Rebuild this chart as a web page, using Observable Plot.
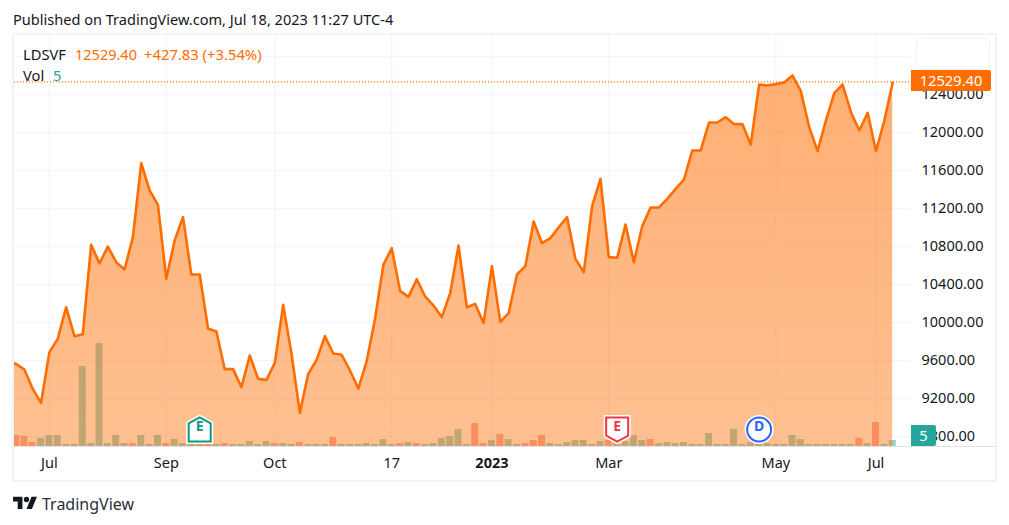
<!DOCTYPE html>
<html><head><meta charset="utf-8">
<script src="https://cdn.jsdelivr.net/npm/d3@7"></script>
<script src="https://cdn.jsdelivr.net/npm/@observablehq/plot@0.6"></script>
<style>
html,body{margin:0;padding:0;background:#fff;width:1009px;height:525px;overflow:hidden}
body{font-family:"Noto Sans",sans-serif;color:#131722;position:relative}
.abs{position:absolute;white-space:nowrap;line-height:1}
svg{display:block}
</style></head><body>
<div id="chart" class="abs" style="left:0;top:33px"></div>
<div class="abs" style="left:12px;top:33px;width:981px;height:445px;border:2px solid #f0f3fa"></div>
<div class="abs" style="left:14px;top:446px;width:981px;height:1px;background:#e0e3eb"></div>
<div class="abs" style="left:13px;top:12px;font-size:14.55px">Published on TradingView.com, Jul 18, 2023 11:27 UTC-4</div>
<div class="abs" style="left:23px;top:47px;font-size:14.7px">LDSVF</div>
<div class="abs" style="left:75px;top:47px;font-size:14.5px;color:#ff6d00">12529.40</div>
<div class="abs" style="left:144px;top:47px;font-size:14.8px;color:#ff6d00">+427.83 (+3.54%)</div>
<div class="abs" style="left:23px;top:68px;font-size:14.7px">Vol</div>
<div class="abs" style="left:53px;top:68px;font-size:14.7px;color:#26a69a">5</div>
<div class="abs" style="left:916px;top:38px;width:72px;height:30px;background:#fff;border:1.5px solid #f0f3fa;border-radius:5px"></div>
<svg class="abs" style="left:13px;top:494.3px" width="24.3" height="19" viewBox="0 0 36 28"><path fill="#131722" d="M14 22H7V11H0V4h14v18zM28 22h-8l7.5-18h8L28 22z"/><circle fill="#131722" cx="20" cy="8" r="4"/></svg>
<div class="abs" style="left:42px;top:496px;font-size:16px;color:#2a2e39">TradingView</div>
<script>
// Weekly closes, first entry sits just left of the visible window
const closes = [9590,9568,9508,9305,9157,9691,9831,10164,9859,9880,10821,10624,10803,10638,10561,10901,11681,11393,11242,10463,10866,11112,10508,10508,9940,9908,9512,9512,9322,9656,9410,9399,9578,10189,9673,9052,9463,9610,9859,9677,9663,9498,9308,9596,10041,10610,10785,10336,10273,10459,10277,10182,10059,10312,10813,10164,10199,9996,10596,10010,10101,10508,10596,11066,10838,10891,11006,11112,10673,10533,11228,11515,10691,10684,11035,10638,11017,11214,11214,11305,11410,11508,11814,11814,12108,12108,12164,12091,12091,11877,12508,12498,12512,12529,12603,12438,12059,11807,12129,12417,12508,12217,12024,12210,11807,12129,12529.4];
const volumes = [9.2,8.3,3.3,6.7,9.2,9.2,1.7,1.7,66.7,2.5,85.8,2.5,9.2,2.5,2.5,9.2,1.7,9.2,2.5,5.8,2.5,2.5,1.7,2.5,1.7,2.5,1.7,1.7,4.2,1.7,4.2,2.5,2.5,1.7,3.3,1.7,1.7,1.7,7.5,1.7,1.7,1.7,2.5,1.7,5.8,1.7,2.5,3.3,2.5,1.7,2.5,6.7,8.3,14.2,1.7,19.2,2.5,5,10,5.8,1.7,2.5,5,9.2,2.5,1.7,3.3,5,5,1.7,4.2,5,2.5,4.2,9.2,5,5.8,2.5,3.3,2.5,3.3,1.7,1.7,10.8,1.7,1.7,14.2,1.7,3.3,2.5,2.5,1.7,1.7,9.2,5.8,1.7,1.7,1.7,1.7,1.7,1.7,6.7,2.5,20,1.7,5];
const downWeeks = [0,1,2,14,18,23,25,31,34,38,46,48,55,56,58,61,62,63,71,76,101,103];
const priceTicks = [8800,9200,9600,10000,10400,10800,11200,11600,12000,12400];
const priceGrid = [...priceTicks,12800];
const timeTicks = [4,18,31,45,71,91,103];
const timeLabels = ["Jul","Sep","Oct","17","Mar","May","Jul"];
const yearTick = [57];
const yearLabel = "2023";
const events = [{week:22,letter:"E",color:"#089981"},{week:72,letter:"E",color:"#f23645"},{week:89,letter:"D",color:"#2962ff"}];
const lastPrice = 12529.4, lastVolume = 5;
const priceMin = 8698, priceMax = 13024, pricePerVolume = 12.63;

const line = closes.map((c,i)=>({week:i-1,close:c}));
const bars = volumes.map((v,i)=>({week:i,vol:v,down:downWeeks.includes(i)}));
const font = '"Noto Sans",sans-serif';

function badge(points){return {draw(ctx,size){const r=Math.sqrt(size/Math.PI);
  points.forEach(([a,b],i)=>i?ctx.lineTo(a*r,b*r):ctx.moveTo(a*r,b*r));ctx.closePath();}};}
const houseUp = badge([[0,-1.1],[1,-.55],[1,1.1],[-1,1.1],[-1,-.55]]);
const houseDown = badge([[-1,-1.1],[1,-1.1],[1,.55],[0,1.1],[-1,.55]]);
const shape = e=>e.letter==="D"?"circle":e.color==="#089981"?houseUp:houseDown;
const eventMarks = events.flatMap(e=>{const r=e.letter==="D"?12:11;return [
  Plot.dot([e],{x:"week",frameAnchor:"bottom",dy:-17,r,symbol:shape(e),fill:"#fff",stroke:"#fff",strokeWidth:5}),
  Plot.dot([e],{x:"week",frameAnchor:"bottom",dy:-17,r,symbol:shape(e),fill:"#fff",stroke:e.color,strokeWidth:2}),
  Plot.text([e],{x:"week",frameAnchor:"bottom",dy:-15.5,text:"letter",fill:e.color,fontWeight:"bold",fontSize:14})
];});

const plot = Plot.plot({
  width:1009,height:449,marginLeft:14,marginRight:98,marginTop:2,marginBottom:36,
  style:{fontFamily:font,fontSize:"14.5px",color:"#131722",background:"transparent",overflow:"visible"},
  x:{domain:[-0.18,107.25],axis:null},
  y:{domain:[priceMin,priceMax],axis:null},
  marks:[
    ()=>{const d=d3.create("svg:defs");const g=d.append("linearGradient").attr("id","areaFill").attr("x1",0).attr("y1",0).attr("x2",0).attr("y2",1);
      g.append("stop").attr("offset","0%").attr("stop-color","#ff6d00").attr("stop-opacity",.55);
      g.append("stop").attr("offset","100%").attr("stop-color","#ff6d00").attr("stop-opacity",.43);return d.node();},
    Plot.gridY(priceGrid,{stroke:"#f0f3fa",strokeOpacity:1}),
    Plot.gridX([...timeTicks,...yearTick],{stroke:"#f0f3fa",strokeOpacity:1}),
    Plot.rect(bars.filter(d=>!d.down),{x1:d=>d.week-.42,x2:d=>d.week+.42,y1:()=>priceMin,y2:d=>priceMin+d.vol*pricePerVolume,fill:"#26a69a",fillOpacity:.5,clip:true}),
    Plot.rect(bars.filter(d=>d.down),{x1:d=>d.week-.42,x2:d=>d.week+.42,y1:()=>priceMin,y2:d=>priceMin+d.vol*pricePerVolume,fill:"#ef5350",fillOpacity:.5,clip:true}),
    Plot.areaY(line,{x:"week",y1:()=>priceMin,y2:"close",fill:"url(#areaFill)",clip:true}),
    Plot.line(line,{x:"week",y:"close",stroke:"#ff6d00",strokeWidth:2.6,clip:true}),
    Plot.ruleY([lastPrice],{stroke:"#ff6d00",strokeDasharray:"1 2",strokeWidth:1.2,dy:-0.7}),
    Plot.axisY(priceTicks,{anchor:"right",tickSize:0,tickPadding:10,label:null,tickFormat:d=>d.toFixed(2)}),
    Plot.axisX(timeTicks,{anchor:"bottom",tickSize:0,tickPadding:11,label:null,tickFormat:d=>timeLabels[timeTicks.indexOf(d)]}),
    Plot.axisX(yearTick,{anchor:"bottom",tickSize:0,tickPadding:11,label:null,fontWeight:"bold",tickFormat:()=>yearLabel}),
    ...eventMarks
  ]
});
document.getElementById("chart").append(plot);

// price-axis tags follow the y scale
const yOf = plot.scale("y").apply(lastPrice)+33;
const tag=(txt,bg,left,w,top,h,sz)=>{const t=document.createElement("div");t.className="abs";t.textContent=txt;
  t.style.cssText=`left:${left}px;top:${top}px;width:${w}px;height:${h}px;line-height:${h}px;background:${bg};color:#fff;font-size:${sz}px;text-align:center;border-radius:0 2px 2px 0`;document.body.append(t);};
tag(lastPrice.toFixed(2),"#ff6d00",911,80,yOf-11.5,21,14.7);
const yVol = plot.scale("y").apply(priceMin)+33;
tag(String(lastVolume),"#26a69a",911,25,yVol-21,21,14.7);
</script>
</body></html>
